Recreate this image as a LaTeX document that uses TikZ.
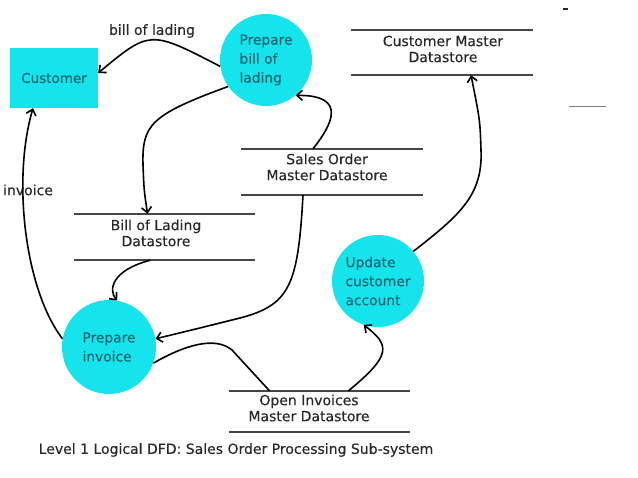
\documentclass[tikz,border=0pt]{standalone}
\usepackage{fontspec}
\setmainfont{DejaVu Sans}
\newfontfamily\procfont{DejaVu Sans}[FakeBold=0.5]
\newfontfamily\txtfont{DejaVu Sans}[FakeBold=0.3]
\usetikzlibrary{arrows.meta}
\definecolor{cyanfill}{RGB}{22,228,236}
\definecolor{tealtext}{RGB}{26,105,118}
\definecolor{inkgray}{RGB}{40,40,40}
\definecolor{storegray}{RGB}{70,70,70}
\begin{document}
\begin{tikzpicture}[x=1pt,y=-1pt,
  proc/.style={circle, fill=cyanfill, inner sep=0pt, align=left, text=tealtext,
    font=\procfont\fontsize{13.8}{19}\selectfont},
  ent/.style={rectangle, fill=cyanfill, minimum width=88pt, minimum height=60pt,
    text=tealtext, font=\procfont\fontsize{13.5}{16}\selectfont},
  store/.style={minimum width=181pt, minimum height=46pt, inner sep=0pt},
  storetext/.style={align=center, text=inkgray, inner sep=0pt,
    font=\txtfont\fontsize{14}{16}\selectfont},
  lbl/.style={text=inkgray, inner sep=0pt, font=\txtfont\fontsize{14}{16}\selectfont},
  sline/.style={draw=storegray, line width=1.9pt},
  flow/.style={draw=black, line width=1.6pt, -{Straight Barb[length=5.5pt,width=10pt]}},
  plainflow/.style={draw=black, line width=1.6pt}]
\useasboundingbox (0,0) rectangle (638,478);

% entity and processes
\node[ent] (cust) at (54,78) {Customer};
\node[proc, minimum size=92pt] (pbl) at (266,60) {Prepare\\bill of\\lading};
\node[proc, minimum size=94pt] (pinv) at (109,347) {Prepare\\invoice};
\node[proc, minimum size=92pt] (uca) at (378,281) {Update\\customer\\account};

% datastores
\node[store, minimum height=45pt] (cmd) at (442,52.5) {};
\node[storetext] (cmdt) at (443,49) {Customer Master\\Datastore};
\draw[sline] (cmd.north west) -- (cmd.north east);
\draw[sline] (cmd.south west) -- (cmd.south east);

\node[store] (som) at (332,172) {};
\node[storetext] (somt) at (327,167) {Sales Order\\Master Datastore};
\draw[sline] (som.north west) -- (som.north east);
\draw[sline] (som.south west) -- (som.south east);

\node[store] (bld) at (164.5,237) {};
\node[storetext] (bldt) at (156,233) {Bill of Lading\\Datastore};
\draw[sline] (bld.north west) -- (bld.north east);
\draw[sline] (bld.south west) -- (bld.south east);

\node[store, minimum height=41pt] (oim) at (319.5,411.5) {};
\node[storetext] (oimt) at (309,408) {Open Invoices\\Master Datastore};
\draw[sline] (oim.north west) -- (oim.north east);
\draw[sline] (oim.south west) -- (oim.south east);

% labels
\node[lbl] (lbill) at (152,31) {bill of lading};
\node[lbl] (linv) at (28,190) {invoice};
\node[lbl] (caption) at (236,450) {Level 1 Logical DFD: Sales Order Processing Sub-system};

% flows
\draw[flow] (pbl.188) .. controls (150,30) .. ([yshift=5pt]cust.east);
\draw[flow] (pbl.215) .. controls (150,115) and (142,125) .. (143,165)
  .. controls (144,190) .. ([xshift=-17pt]bld.north);
\draw[flow] ([xshift=-19pt]som.north) .. controls (332,125) and (348,95) .. (pbl.-50);
\draw[flow] ([xshift=-14pt]bld.south) .. controls (112,270) and (108,290) .. (pinv.80);
\draw[flow] ([xshift=-29pt]som.south) .. controls (298,285) and (290,305) .. (240,318)
  .. controls (200,328) .. (pinv.10);
\draw[flow] (pinv.170) .. controls (25,290) and (12,180) .. ([xshift=-21pt]cust.south);
\draw[plainflow] (pinv.-20) .. controls (185,345) and (215,336) .. (232,350)
  -- ([xshift=-50pt]oim.north);
\draw[flow] ([xshift=29pt]oim.north) .. controls (392,355) and (390,345) .. (uca.-108);
\draw[flow] (uca.40) .. controls (460,215) and (483,195) .. (481,150)
  .. controls (480,120) .. ([xshift=29pt]cmd.south);

% stray marks
\draw[draw=inkgray, line width=1.2pt] (563,9) -- (568,9);
\draw[draw=gray, line width=0.9pt] (569,106) -- (606,106);
\end{tikzpicture}
\end{document}
